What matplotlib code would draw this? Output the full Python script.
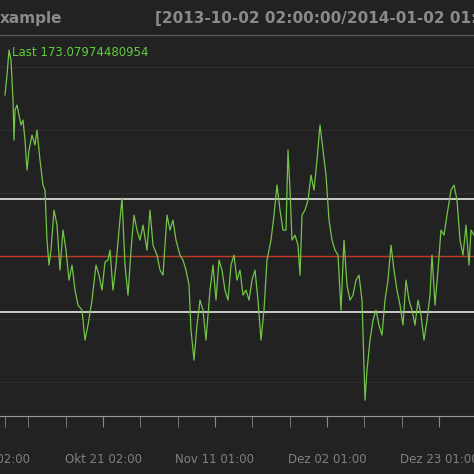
import numpy as np
import pandas as pd
import matplotlib.pyplot as plt

# price series (t = sample position, price)
t = [5, 7, 9, 11, 13, 14, 15, 17, 19, 21, 23, 25, 27, 29, 32, 35, 37, 40, 43, 45,
     47, 49, 51, 54, 57, 60, 63, 66, 69, 72, 75, 78, 82, 85, 88, 92, 96, 99, 102, 105,
     108, 110, 113, 116, 119, 122, 125, 128, 131, 134, 137, 140, 143, 147, 150, 153, 157, 160, 163, 167,
     170, 173, 176, 180, 183, 186, 189, 191, 194, 197, 200, 203, 206, 210, 213, 216, 219, 222, 225, 228,
     231, 234, 237, 240, 243, 246, 249, 252, 255, 258, 261, 264, 267, 271, 274, 277, 280, 283, 286, 288,
     290, 292, 295, 298, 300, 302, 305, 308, 311, 314, 317, 320, 323, 326, 329, 332, 335, 338, 341, 344,
     347, 350, 353, 356, 359, 362, 365, 367, 370, 373, 376, 379, 382, 385, 388, 391, 394, 397, 400, 403,
     406, 409, 412, 415, 418, 421, 424, 427, 430, 432, 435, 438, 441, 444, 447, 451, 454, 457, 460, 463,
     466, 469, 471, 474]
price = [335, 355, 380, 370, 330, 290, 320, 325, 315, 305, 310, 290, 260, 280, 295, 285, 300, 270, 245, 240,
         190, 165, 180, 220, 205, 160, 200, 180, 150, 165, 140, 125, 120, 90, 105, 130, 165, 155, 140, 168,
         170, 180, 140, 165, 200, 232, 165, 135, 180, 215, 200, 190, 205, 180, 220, 185, 175, 160, 155, 215,
         200, 210, 190, 175, 170, 160, 145, 100, 70, 105, 130, 120, 90, 140, 165, 130, 170, 160, 140, 130,
         165, 175, 150, 160, 135, 140, 130, 150, 160, 130, 90, 120, 170, 190, 215, 245, 220, 200, 200, 280,
         240, 190, 195, 185, 155, 215, 220, 230, 255, 240, 270, 305, 280, 255, 210, 190, 180, 175, 120, 190,
         145, 130, 135, 150, 155, 130, 30, 60, 90, 110, 120, 105, 95, 130, 150, 185, 160, 140, 125, 105,
         150, 130, 120, 105, 130, 115, 90, 110, 135, 175, 125, 160, 200, 195, 215, 240, 245, 230, 190, 175,
         205, 165, 200, 195]
last_label = 'Last 173.07974480954'
red_level = 174
band = [231, 118]
tick_labels = ['Sep 30 02:00', 'Okt 21 02:00', 'Nov 11 01:00', 'Dez 02 01:00', 'Dez 23 01:00']

ref = pd.Timestamp('2013-10-21 02:00')
px_per_day = 5.333
dates = [ref + pd.Timedelta(days=(v - 103) / px_per_day) for v in t]

bg = '#222222'
fig = plt.figure(figsize=(4.74, 4.74), dpi=100, facecolor=bg)
ax = fig.add_axes([0, 0.122, 1, 0.802], facecolor=bg)

for g in [363, 300, 237, 111, 48]:
    ax.axhline(g, color='#2e2e2e', lw=0.8)
for b in band:
    ax.axhline(b, color='#d8d8d8', lw=1.3)
ax.axhline(red_level, color='#c0392b', lw=1)
ax.plot(dates, price, color='#72c447', lw=0.9)

major = [ref + pd.Timedelta(days=21 * k) for k in range(-1, 4)]
minor = [ref + pd.Timedelta(days=7 * k) for k in range(-2, 13)] + [dates[0]]
ax.set_xticks(major[1:])
ax.set_xticks(minor, minor=True)
ax.tick_params(axis='x', which='both', direction='out', length=8, color='#888888',
               labelbottom=False)
ax.set_yticks([])
ax.set_xlim(ref + pd.Timedelta(days=-103 / px_per_day), ref + pd.Timedelta(days=(474 - 103) / px_per_day))
ax.set_ylim(14, 394)
for s in ['left', 'right', 'top']:
    ax.spines[s].set_visible(False)
ax.spines['bottom'].set_color('#999999')

# tick labels as texts so the cut-off first label still shows
for d, lab in zip(major, tick_labels):
    ax.annotate(lab, xy=(d, 0), xycoords=('data', 'axes fraction'), xytext=(0, -31),
                textcoords='offset points', ha='center', va='center', color='#808080',
                fontsize=8.5, annotation_clip=False)

fig.text(12 / 474, 1 - 53 / 474, last_label, color='#5fcf3f', fontsize=8.5, va='center')
fig.text(0, 1 - 19 / 474, 'xample', color='#8a8a8a', fontsize=11, fontweight='bold', va='center')
fig.text(155 / 474, 1 - 19 / 474, '[2013-10-02 02:00:00/2014-01-02 01:00:00]', color='#8a8a8a',
         fontsize=11, fontweight='bold', va='center')
fig.add_artist(plt.Line2D([0, 1], [1 - 35 / 474] * 2, color='#555555', lw=1))

fig.savefig('out.png', dpi=100, facecolor=bg)
